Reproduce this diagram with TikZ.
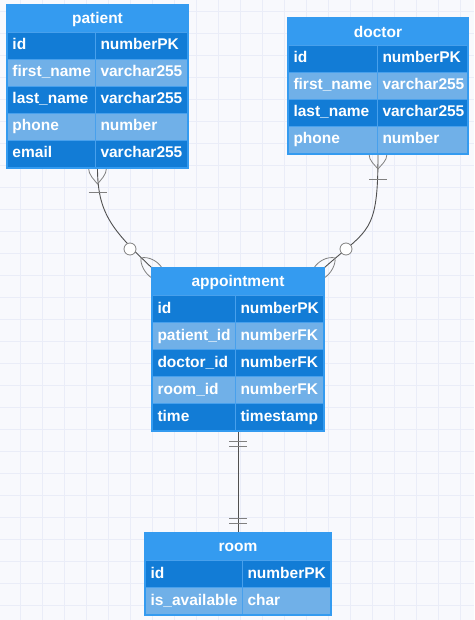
\documentclass[tikz,border=0pt]{standalone}
\usepackage{fontspec}
\setmainfont{Liberation Sans}
\usepackage{tikz}
\usetikzlibrary{backgrounds}
\usepackage{xcolor}
\definecolor{hdblue}{RGB}{52,155,240}
\definecolor{dkblue}{RGB}{18,124,214}
\definecolor{ltblue}{RGB}{112,176,232}
\definecolor{sepblue}{RGB}{72,160,236}
\definecolor{paper}{RGB}{248,249,253}
\definecolor{gridc}{RGB}{234,237,248}
\definecolor{linec}{RGB}{80,80,80}
\definecolor{tinec}{RGB}{128,128,128}

\begin{document}
\begin{tikzpicture}[x=1pt,y=-1pt,
          every node/.style={font=\fontsize{15.5}{18}\selectfont\bfseries,text=white},
          head/.style={rectangle,anchor=north west,fill=hdblue,draw=hdblue,line width=1pt,minimum height=27pt,inner sep=0pt},
          cell/.style={rectangle,anchor=north west,draw=sepblue,line width=1pt,minimum height=27pt,inner xsep=5pt,inner ysep=0pt,text height=11pt,text depth=3pt,align=left},
          dk/.style={cell,fill=dkblue},
          lt/.style={cell,fill=ltblue},
          frame/.style={hdblue,line width=1.2pt},
          rel/.style={linec,line width=0.9pt},
          tine/.style={tinec,line width=0.8pt},
          optc/.style={circle,draw=tinec,fill=white,line width=0.8pt,minimum size=12pt,inner sep=0pt},
          gridline/.style={gridc,line width=0.8pt},
        ]
        \useasboundingbox (0,0) rectangle (474,620);
        \begin{scope}[on background layer]
          \fill[paper] (0,0) rectangle (474,620);
          \foreach \gx in {20,42,...,460} \draw[gridline] (\gx,0) -- (\gx,620);
          \foreach \gy in {11,33,...,605} \draw[gridline] (0,\gy) -- (474,\gy);
        \end{scope}
        % patient
        \node[head,minimum width=180pt] (pat-h) at (7,5) {patient};
        \node[dk,text width=78pt] (pat-k1) at (7,32)  {id};
        \node[dk,text width=82pt] (pat-v1) at (95,32) {numberPK};
        \node[lt,text width=78pt] (pat-k2) at (7,59)  {first\_name};
        \node[lt,text width=82pt] (pat-v2) at (95,59) {varchar255};
        \node[dk,text width=78pt] (pat-k3) at (7,86)  {last\_name};
        \node[dk,text width=82pt] (pat-v3) at (95,86) {varchar255};
        \node[lt,text width=78pt] (pat-k4) at (7,113)  {phone};
        \node[lt,text width=82pt] (pat-v4) at (95,113) {number};
        \node[dk,text width=78pt] (pat-k5) at (7,140)  {email};
        \node[dk,text width=82pt] (pat-v5) at (95,140) {varchar255};
        \draw[frame] (pat-h.north west) rectangle (pat-v5.south east);
        % doctor
        \node[head,minimum width=179pt] (doc-h) at (288,18) {doctor};
        \node[dk,text width=79pt] (doc-k1) at (288,45) {id};
        \node[dk,text width=80pt] (doc-v1) at (377,45) {numberPK};
        \node[lt,text width=79pt] (doc-k2) at (288,72) {first\_name};
        \node[lt,text width=80pt] (doc-v2) at (377,72) {varchar255};
        \node[dk,text width=79pt] (doc-k3) at (288,99) {last\_name};
        \node[dk,text width=80pt] (doc-v3) at (377,99) {varchar255};
        \node[lt,text width=79pt] (doc-k4) at (288,126) {phone};
        \node[lt,text width=80pt] (doc-v4) at (377,126) {number};
        \draw[frame] (doc-h.north west) rectangle (doc-v4.south east);
        % appointment
        \node[head,minimum width=171pt] (app-h) at (152,268) {appointment};
        \node[dk,text width=73pt] (app-k1) at (152,295) {id};
        \node[dk,text width=78pt] (app-v1) at (235,295) {numberPK};
        \node[lt,text width=73pt] (app-k2) at (152,322) {patient\_id};
        \node[lt,text width=78pt] (app-v2) at (235,322) {numberFK};
        \node[dk,text width=73pt] (app-k3) at (152,349) {doctor\_id};
        \node[dk,text width=78pt] (app-v3) at (235,349) {numberFK};
        \node[lt,text width=73pt] (app-k4) at (152,376) {room\_id};
        \node[lt,text width=78pt] (app-v4) at (235,376) {numberFK};
        \node[dk,text width=73pt] (app-k5) at (152,403) {time};
        \node[dk,text width=78pt] (app-v5) at (235,403) {timestamp};
        \draw[frame] (app-h.north west) rectangle (app-v5.south east);
        % room
        \node[head,minimum width=185pt] (room-h) at (145,533) {room};
        \node[dk,text width=87pt] (room-k1) at (145,560) {id};
        \node[dk,text width=78pt] (room-v1) at (242,560) {numberPK};
        \node[lt,text width=87pt] (room-k2) at (145,587) {is\_available};
        \node[lt,text width=78pt] (room-v2) at (242,587) {char};
        \draw[frame] (room-h.north west) rectangle (room-v2.south east);
        \coordinate (pat-end) at (pat-h.south |- pat-v5.south);
        \coordinate (doc-end) at (doc-h.south |- doc-v4.south);
        \coordinate (app-end) at (app-h.south |- app-v5.south);
        % relations
        \begin{scope}[on background layer]
          \draw[rel] (pat-end) .. controls +(0,45) and +(-40,-38) .. (app-h.north west);
          \draw[rel] (doc-end) .. controls +(0,80) and +(45,-40) .. (app-h.north east);
          \draw[rel] (app-end) -- (room-h.north);
          \begin{scope}[shift={(pat-end)}]
            \draw[tine] (-9,0) .. controls (-9,7) and (-3,12) .. (0,16) .. controls (3,12) and (9,7) .. (9,0);
            \draw[tine] (-9,24) -- (9,24);
          \end{scope}
          \begin{scope}[shift={(doc-end)}]
            \draw[tine] (-9,0) .. controls (-9,7) and (-3,11) .. (0,15) .. controls (3,11) and (9,7) .. (9,0);
            \draw[tine] (-9,25) -- (9,25);
          \end{scope}
          \begin{scope}[shift={(app-h.north west)}]
            \draw[tine] (10,0) .. controls (6,-7) and (-4,-12) .. (-11,-10) .. controls (-12,-4) and (-7,6) .. (0,10);
            \node[optc] (pat-opt) at (-22,-19) {};
          \end{scope}
          \begin{scope}[shift={(app-h.north east)}]
            \draw[tine] (-10,0) .. controls (-6,-7) and (4,-12) .. (11,-10) .. controls (12,-4) and (7,6) .. (0,10);
            \node[optc] (doc-opt) at (22,-19) {};
          \end{scope}
          \begin{scope}[shift={(app-end)}]
            \draw[tine] (-9,10) -- (9,10) (-9,15) -- (9,15);
          \end{scope}
          \begin{scope}[shift={(room-h.north)}]
            \draw[tine] (-9,-15) -- (9,-15) (-9,-10) -- (9,-10);
          \end{scope}
        \end{scope}
      \end{tikzpicture}
\end{document}
